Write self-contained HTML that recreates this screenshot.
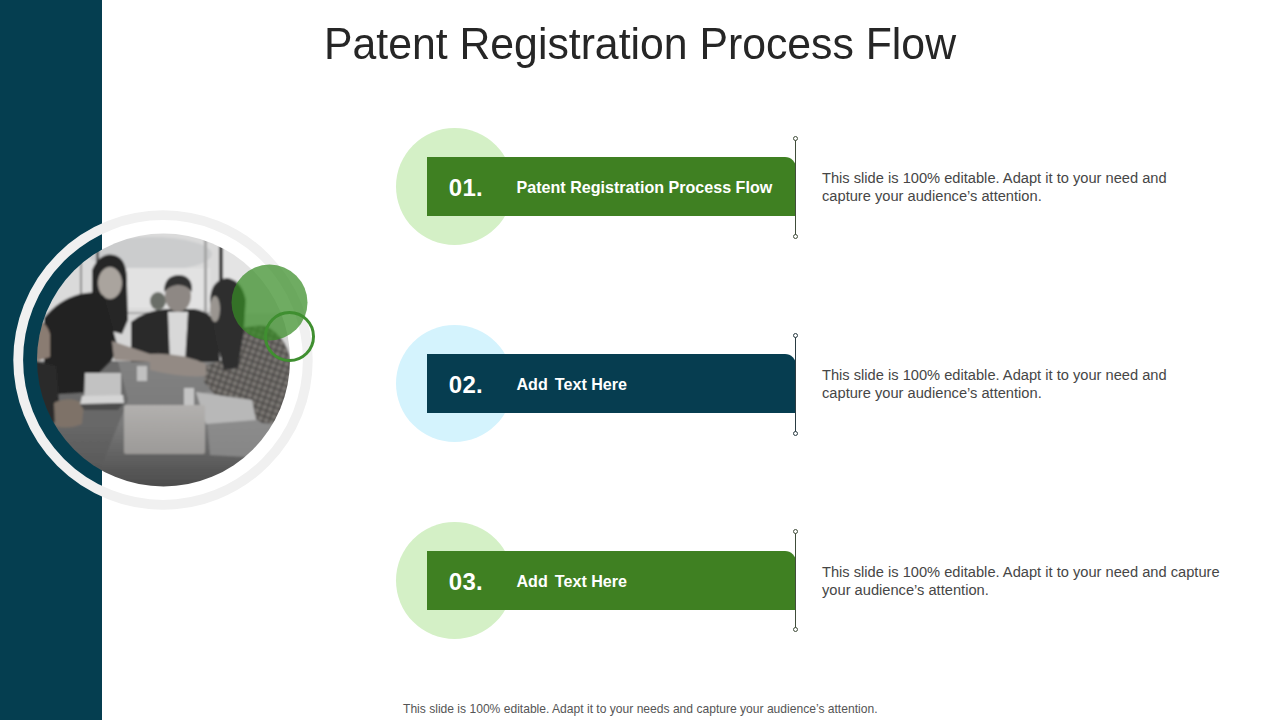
<!DOCTYPE html>
<html><head><meta charset="utf-8">
<style>
html,body{margin:0;padding:0;}
body{width:1280px;height:720px;position:relative;overflow:hidden;background:#fff;font-family:"Liberation Sans",sans-serif;}
.abs{position:absolute;}
.side{left:0;top:0;width:102px;height:720px;background:#053e50;}
.title{left:324px;top:22px;font-size:44.4px;transform:scaleX(0.963);transform-origin:0 0;line-height:1;color:#262626;white-space:nowrap;}
.circ{width:117px;height:117px;border-radius:50%;}
.bar{left:427px;width:369px;height:59px;border-top-right-radius:11px;}
.num{left:448.8px;letter-spacing:0.3px;font-size:24px;font-weight:700;line-height:1;color:#fff;white-space:nowrap;}
.lab{left:516.5px;font-size:16.1px;font-weight:700;line-height:1;color:#fff;white-space:pre;}
.vl{left:795px;width:1px;}
.dot{width:3px;height:3px;border:1px solid;border-radius:50%;background:#fff;}
.desc{left:822px;font-size:14.67px;line-height:18px;color:#464646;white-space:nowrap;}
.foot{left:403px;top:702.7px;font-size:12.09px;line-height:1;color:#555;white-space:nowrap;}
</style></head><body>
<div class="abs side"></div>
<div class="abs title">Patent Registration Process Flow</div>

<!-- photo -->
<svg class="abs" style="left:0;top:0" width="340" height="540" viewBox="0 0 340 540">
  <defs>
    <clipPath id="pc"><circle cx="163.5" cy="360" r="126.5"/></clipPath>
    <filter id="bl" x="-10%" y="-10%" width="120%" height="120%"><feGaussianBlur stdDeviation="1.2"/></filter>
    <linearGradient id="sky" x1="0" y1="0" x2="0" y2="1">
      <stop offset="0" stop-color="#c9cbcf"/><stop offset="0.5" stop-color="#dcdde0"/><stop offset="1" stop-color="#e6e6e6"/>
    </linearGradient>
    <linearGradient id="tab" x1="0" y1="0" x2="1" y2="0.4">
      <stop offset="0" stop-color="#4a4a4a"/><stop offset="0.6" stop-color="#6e6e6e"/><stop offset="1" stop-color="#8a8a8a"/>
    </linearGradient>
    <linearGradient id="tabv" x1="0" y1="0" x2="0" y2="1">
      <stop offset="0" stop-color="#000" stop-opacity="0"/><stop offset="1" stop-color="#000" stop-opacity="0.35"/>
    </linearGradient>
    <linearGradient id="tabg" x1="0" y1="0" x2="0" y2="1">
      <stop offset="0" stop-color="#828282"/><stop offset="0.45" stop-color="#7a7a7a"/><stop offset="0.8" stop-color="#555"/><stop offset="1" stop-color="#444"/>
    </linearGradient>
    <pattern id="plaid" patternUnits="userSpaceOnUse" width="6" height="6" patternTransform="rotate(20)">
      <rect width="6" height="6" fill="#7c7874"/>
      <rect width="6" height="1.6" fill="#4a4846"/>
      <rect width="1.6" height="6" fill="#4a4846"/>
    </pattern>
    <linearGradient id="lap" x1="0" y1="0" x2="0" y2="1">
      <stop offset="0" stop-color="#b2b0ae"/><stop offset="1" stop-color="#9c9a98"/>
    </linearGradient>
  </defs>
  <circle cx="163" cy="360" r="144.8" fill="none" stroke="#f0f0f0" stroke-width="9.8"/>
  <g clip-path="url(#pc)">
    <g filter="url(#bl)">
    <rect x="30" y="225" width="270" height="145" fill="#dadada"/>
    <!-- hills -->
    <ellipse cx="150" cy="254" rx="62" ry="17" fill="#cbcccd"/>
    <rect x="95" y="268" width="115" height="40" fill="#e2e2e2"/>
    <rect x="222" y="245" width="70" height="75" fill="#e4e4e4"/>
    <rect x="30" y="314" width="270" height="50" fill="#d6d6d6"/>
    <rect x="95" y="312" width="125" height="2" fill="#a8a8a8"/>
    <!-- window frames -->
    <rect x="96" y="240" width="3" height="70" fill="#5a5a5a"/>
    <rect x="80" y="262" width="2" height="60" fill="#8a8a8a"/>
    <rect x="204" y="236" width="3" height="85" fill="#a4a4a4"/>
    <rect x="219" y="246" width="4" height="38" fill="#3a3a3a"/>
    <!-- plant -->
    <ellipse cx="158" cy="301" rx="8" ry="9" fill="#6a6e68"/>
    <!-- table -->
    <rect x="30" y="361" width="270" height="140" fill="url(#tabg)"/>
    <path d="M30 361 L118 361 L128 400 L100 470 L30 480 Z" fill="#5a5a5a" opacity="0.55"/>
    <path d="M205 392 L300 380 L300 460 L210 455 Z" fill="#909090" opacity="0.8"/>
    <!-- man -->
    <path d="M131 322 Q146 310 166 309 L194 309 Q214 312 218 330 L220 362 L131 362 Z" fill="#2c2c2c"/>
    <path d="M168 312 L188 312 L185 362 L170 362 Z" fill="#d8d8d8"/>
    <ellipse cx="178" cy="296" rx="13" ry="16" fill="#8e8884"/>
    <path d="M164 292 Q164 276 178 275 Q193 275 192 292 Q186 284 177 285 Q169 286 164 292 Z" fill="#303030"/>
    <!-- left woman -->
    <path d="M92 270 Q100 252 114 255 Q128 258 127 285 L128 320 L122 334 L108 330 L92 318 Z" fill="#262626"/>
    <ellipse cx="110" cy="283" rx="12" ry="16" fill="#aaa49e"/>
    <path d="M44 318 Q58 300 80 294 Q96 290 104 296 L118 348 L112 360 L100 372 L96 392 L44 395 Z" fill="#232323"/>
    <path d="M112 341 L150 354 L150 362 L114 360 Z" fill="#958c86"/>
    <!-- left person glasses -->
    <path d="M34 320 Q46 320 50 334 L50 357 L34 362 Z" fill="#8a7c72"/>
    <path d="M30 360 L56 366 L60 412 L44 440 L30 440 Z" fill="#2c2c2c"/>
    <path d="M54 403 Q70 395 84 404 L82 424 Q68 430 55 426 Z" fill="#7e7268"/>
    <!-- right woman -->
    <path d="M232 332 Q250 324 266 326 Q290 338 292 370 L292 425 L262 423 Q244 410 232 402 L214 394 L204 382 L205 366 L228 358 Z" fill="url(#plaid)"/>
    <path d="M210 300 Q211 280 227 278 Q242 280 246 300 L244 330 L238 368 L224 370 L216 340 Z" fill="#2e2e2e"/>
    <ellipse cx="215" cy="309" rx="5" ry="13" fill="#9a9590"/>
    <path d="M150 354 Q180 352 206 364 L206 376 Q182 378 150 370 Z" fill="#938a84"/>
    <!-- notebook -->
    <path d="M85 373 L121 373 L121 398 L84 400 Z" fill="#c2c2c2"/>
    <path d="M82 396 L123 395 L124 403 L80 405 Z" fill="#d4d4d4"/>
    <path d="M80 404 L124 403 L118 410 L84 410 Z" fill="#4c4c4c"/>
    <!-- glasses of water -->
    <rect x="137" y="366" width="10" height="15" fill="#c0c0c0"/>
    <rect x="184" y="388" width="10" height="17" fill="#c4c4c4"/>
    <!-- papers -->
    <path d="M196 392 L252 400 L256 420 L206 424 Z" fill="#b8b8b8"/>
    <!-- laptop -->
    <rect x="124" y="405" width="81" height="49" rx="2" fill="url(#lap)"/>
    </g>
  </g>
  <circle cx="269.5" cy="302.5" r="38" fill="rgb(56,140,38)" fill-opacity="0.72"/>
  <circle cx="289.5" cy="336.5" r="24" fill="none" stroke="#3f8f30" stroke-width="3"/>
</svg>

<!-- item 1 -->
<div class="abs circ" style="left:396px;top:128px;background:#d4f0c6"></div>
<div class="abs bar" style="top:157px;background:#3f8022"></div>
<div class="abs num" style="top:175.9px">01.</div>
<div class="abs lab" style="top:178.5px">Patent Registration Process Flow</div>
<div class="abs vl" style="top:140px;height:96px;background:#404d3a"></div>
<div class="abs dot" style="left:793px;top:136px;border-color:#404d3a"></div>
<div class="abs dot" style="left:793px;top:234px;border-color:#404d3a"></div>
<div class="abs desc" style="top:168.5px">This slide is 100% editable. Adapt it to your need and<br>capture your audience’s attention.</div>

<!-- item 2 -->
<div class="abs circ" style="left:396px;top:325px;background:#d4f3fd"></div>
<div class="abs bar" style="top:354px;background:#063d50"></div>
<div class="abs num" style="top:372.9px">02.</div>
<div class="abs lab" style="top:375.5px">Add <span style="margin-left:2.6px"></span>Text Here</div>
<div class="abs vl" style="top:337px;height:96px;background:#2a3b42"></div>
<div class="abs dot" style="left:793px;top:333px;border-color:#2a3b42"></div>
<div class="abs dot" style="left:793px;top:431px;border-color:#2a3b42"></div>
<div class="abs desc" style="top:365.5px">This slide is 100% editable. Adapt it to your need and<br>capture your audience’s attention.</div>

<!-- item 3 -->
<div class="abs circ" style="left:396px;top:522px;background:#d4f0c6"></div>
<div class="abs bar" style="top:551px;background:#3f8022"></div>
<div class="abs num" style="top:569.9px">03.</div>
<div class="abs lab" style="top:572.5px">Add <span style="margin-left:2.6px"></span>Text Here</div>
<div class="abs vl" style="top:533px;height:96px;background:#404d3a"></div>
<div class="abs dot" style="left:793px;top:529px;border-color:#404d3a"></div>
<div class="abs dot" style="left:793px;top:627px;border-color:#404d3a"></div>
<div class="abs desc" style="top:562.5px">This slide is 100% editable. Adapt it to your need and capture<br>your audience’s attention.</div>

<div class="abs foot">This slide is 100% editable. Adapt it to your needs and capture your audience’s attention.</div>
</body></html>
